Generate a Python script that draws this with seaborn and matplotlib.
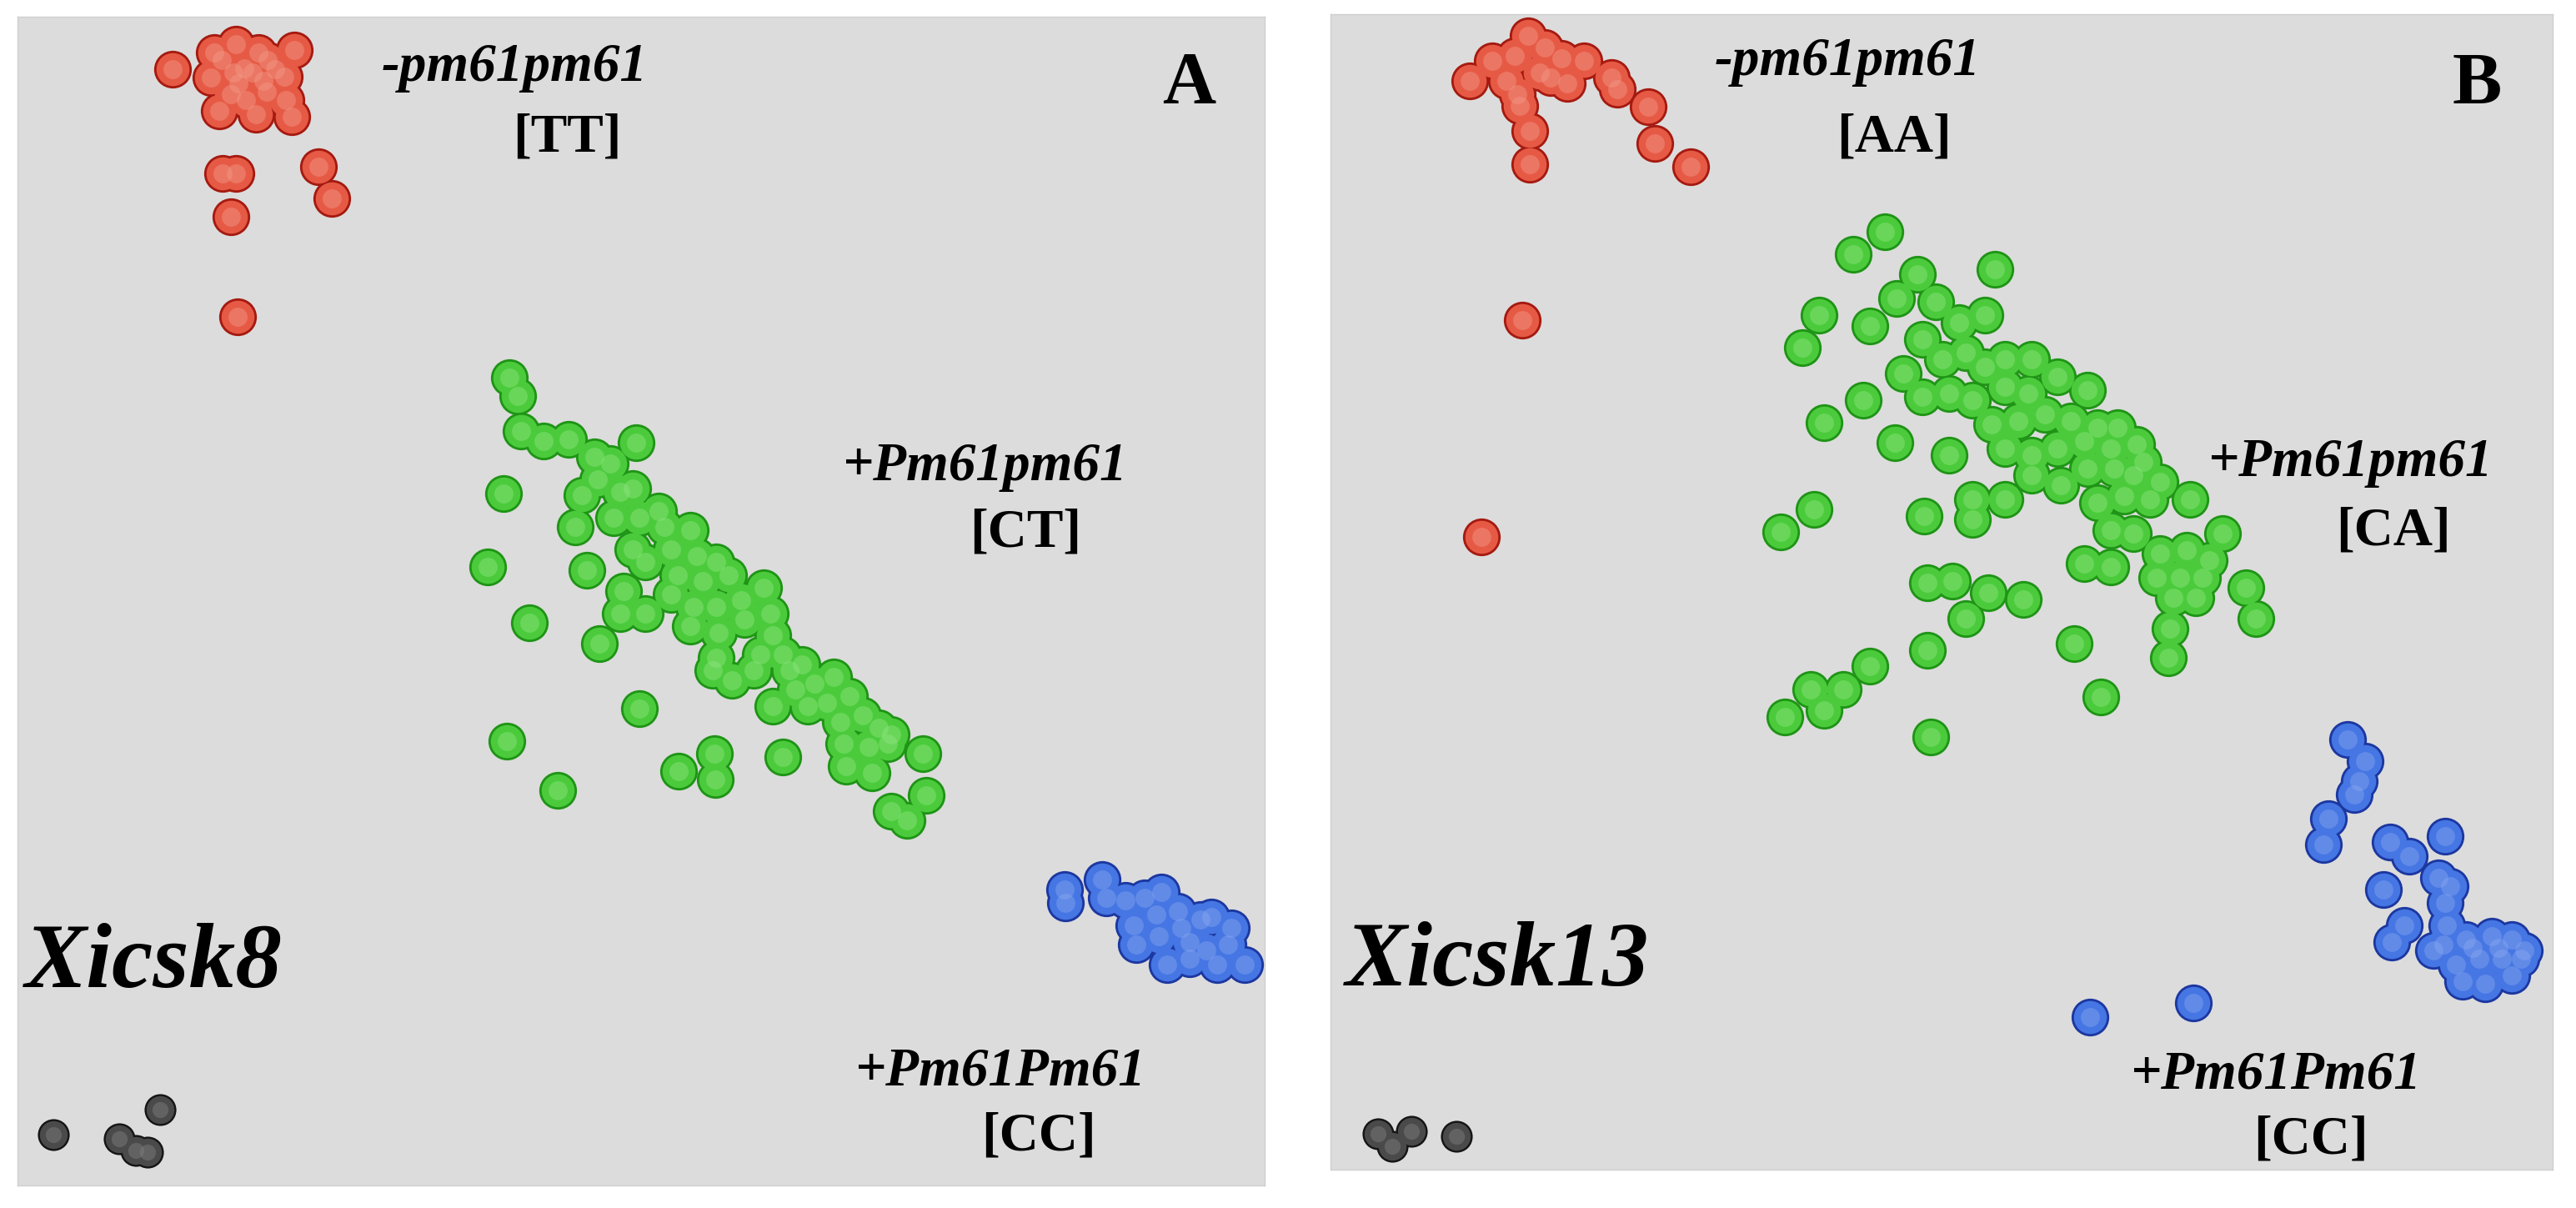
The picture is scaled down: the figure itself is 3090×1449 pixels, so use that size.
import matplotlib
matplotlib.use("Agg")
import matplotlib.pyplot as plt
import seaborn as sns
import pandas as pd

# cluster points (x = allele 1 signal, y = allele 2 signal)
a_red = [(186, 1339), (236, 1359), (262, 1369), (289, 1359), (332, 1362), (232, 1329),
         (259, 1335), (282, 1335), (309, 1339), (242, 1289), (286, 1285), (329, 1282),
         (256, 1309), (299, 1312), (322, 1302), (274, 1302), (246, 1214), (262, 1214),
         (256, 1162), (361, 1222), (377, 1184), (264, 1042), (272, 1340), (300, 1350),
         (320, 1330), (245, 1350), (265, 1322), (295, 1325)]
a_green = [(590, 969), (600, 947), (604, 905), (631, 893), (661, 895), (692, 874), (711, 866),
           (742, 891), (696, 847), (677, 828), (723, 832), (738, 836), (715, 801), (746, 801),
           (769, 809), (776, 790), (807, 786), (669, 790), (738, 763), (753, 748), (784, 763),
           (815, 755), (838, 748), (792, 732), (822, 725), (853, 732), (727, 713), (723, 686),
           (753, 686), (784, 709), (811, 694), (838, 694), (868, 702), (895, 717), (807, 671),
           (841, 663), (872, 679), (903, 686), (906, 660), (838, 633), (834, 618), (857, 606),
           (883, 618), (891, 637), (918, 637), (926, 618), (941, 625), (906, 575), (933, 595),
           (956, 602), (979, 610), (948, 575), (971, 579), (998, 587), (987, 556), (1014, 564),
           (1033, 549), (991, 530), (1021, 526), (1044, 530), (1048, 541), (994, 503),
           (1025, 495), (1086, 518), (1090, 468), (1048, 449), (1067, 438),
           (583, 830), (564, 742), (614, 675), (683, 738), (698, 650), (746, 572), (587, 533),
           (648, 474), (793, 497), (836, 518), (837, 487), (918, 514)]
a_blue = [(1256, 355), (1257, 339), (1301, 367), (1306, 345), (1329, 342), (1352, 345),
          (1372, 352), (1339, 312), (1366, 325), (1392, 329), (1342, 289), (1369, 299),
          (1396, 309), (1419, 319), (1432, 322), (1456, 309), (1379, 265), (1406, 272),
          (1426, 282), (1452, 289), (1439, 265), (1472, 265), (1406, 292)]
a_ntc = [(43, 61), (122, 56), (171, 91), (156, 40), (142, 42)]

b_red = [(167, 1306), (194, 1330), (221, 1336), (237, 1360), (257, 1346), (277, 1333),
         (304, 1330), (284, 1303), (251, 1316), (224, 1290), (227, 1276), (239, 1246),
         (239, 1206), (337, 1310), (344, 1296), (381, 1275), (389, 1231), (432, 1203),
         (211, 1306), (264, 1310), (230, 1019), (181, 759)]
b_green = [(665, 1125), (627, 1098), (797, 1080), (704, 1074), (586, 1025), (647, 1012),
           (679, 1045), (726, 1041), (785, 1025), (754, 1016), (710, 996), (566, 986),
           (687, 955), (639, 923), (592, 896), (677, 872), (742, 857), (580, 792), (712, 784),
           (770, 804), (809, 804), (770, 780), (734, 972), (762, 980), (785, 963), (809, 972),
           (841, 972), (872, 951), (908, 935), (710, 927), (742, 931), (770, 923), (809, 939),
           (837, 931), (793, 894), (825, 898), (857, 906), (888, 898), (920, 890), (944, 890),
           (809, 865), (841, 857), (872, 865), (904, 874), (936, 865), (967, 870), (975, 849),
           (841, 833), (876, 821), (908, 841), (940, 841), (963, 833), (995, 825), (1031, 804),
           (920, 800), (952, 808), (983, 804), (936, 767), (963, 763), (904, 727), (936, 723),
           (995, 739), (1027, 743), (1054, 731), (1070, 763), (991, 710), (1019, 710),
           (1046, 710), (1011, 686), (1038, 686), (1098, 698), (1110, 661), (1007, 649),
           (1005, 614), (892, 631), (924, 567), (716, 704), (746, 706), (789, 692), (831, 684),
           (762, 661), (716, 623), (647, 604), (615, 576), (576, 576), (592, 551), (720, 519),
           (540, 765), (545, 543)]
b_blue = [(1220, 516), (1241, 490), (1234, 466), (1228, 450), (1197, 421), (1191, 390),
          (1271, 393), (1294, 376), (1337, 400), (1263, 336), (1329, 350), (1343, 340),
          (1337, 320), (1288, 293), (1273, 273), (1339, 293), (1335, 270), (1362, 276),
          (1393, 280), (1417, 276), (1428, 253), (1350, 246), (1378, 253), (1405, 253),
          (1358, 226), (1385, 223), (1417, 233), (1323, 263), (1370, 266), (1401, 266),
          (1432, 263), (911, 183), (1035, 200)]
b_ntc = [(57, 43), (74, 28), (97, 46), (151, 40)]

# face, rim, highlight, marker area
styles = {
    "red": ("#e65a45", "#a51a10", "#f29a88", 900),
    "green": ("#4bcb3c", "#1f9416", "#8fe57f", 900),
    "blue": ("#4576e3", "#1c37a0", "#86a6f0", 900),
    "ntc": ("#4a4a4a", "#151515", "#808080", 640),
}

sns.set_theme(style="white")

fig = plt.figure(figsize=(30.9, 14.49), dpi=100)
ax_a = fig.add_axes([21 / 3090, 1 - 1422 / 1449, 1496 / 3090, 1402 / 1449])
ax_b = fig.add_axes([1596 / 3090, 1 - 1403 / 1449, 1466 / 3090, 1386 / 1449])

panels = [
    (ax_a, {"red": a_red, "green": a_green, "blue": a_blue, "ntc": a_ntc}, (1496, 1402)),
    (ax_b, {"red": b_red, "green": b_green, "blue": b_blue, "ntc": b_ntc}, (1466, 1386)),
]

for ax, clusters, (w, h) in panels:
    for name, pts in clusters.items():
        df = pd.DataFrame(pts, columns=["x", "y"])
        face, rim, light, size = styles[name]
        # dark rim first, then the fill on top so a cluster reads as one blob
        sns.scatterplot(data=df, x="x", y="y", ax=ax, color=rim, linewidth=0,
                        s=size * 1.18, legend=False, zorder=3)
        sns.scatterplot(data=df, x="x", y="y", ax=ax, color=face, linewidth=0,
                        s=size * 0.9, legend=False, zorder=4)
        sns.scatterplot(data=df, x="x", y="y", ax=ax, color=light, linewidth=0,
                        s=size * 0.3, alpha=0.45, legend=False, zorder=5)
    ax.set_xlim(0, w)
    ax.set_ylim(0, h)
    ax.set_facecolor("#dcdcdc")
    ax.set_xticks([])
    ax.set_yticks([])
    ax.set_xlabel("")
    ax.set_ylabel("")
    for sp in ax.spines.values():
        sp.set_color("#cfcfcf")
        sp.set_linewidth(1)

serif = ["Liberation Serif", "DejaVu Serif"]
lab = dict(family=serif, fontsize=47, fontweight="bold", color="black", va="center")
big = dict(family=serif, fontweight="bold", color="black", va="center")

# panel A labels
ax_a.text(437, 1341, "-pm61pm61", style="italic", ha="left", **lab)
ax_a.text(659, 1257, "[TT]", ha="center", **lab)
ax_a.text(1405, 1320, "A", ha="center", fontsize=64, **big)
ax_a.text(989, 862, "+Pm61pm61", style="italic", ha="left", **lab)
ax_a.text(1209, 783, "[CT]", ha="center", **lab)
ax_a.text(9, 265, "Xicsk8", ha="left", fontsize=80, style="italic", **big)
ax_a.text(1004, 137, "+Pm61Pm61", style="italic", ha="left", **lab)
ax_a.text(1225, 59, "[CC]", ha="center", **lab)

# panel B labels
ax_b.text(461, 1329, "-pm61pm61", style="italic", ha="left", **lab)
ax_b.text(676, 1237, "[AA]", ha="center", **lab)
ax_b.text(1375, 1301, "B", ha="center", fontsize=64, **big)
ax_b.text(1052, 848, "+Pm61pm61", style="italic", ha="left", **lab)
ax_b.text(1275, 765, "[CA]", ha="center", **lab)
ax_b.text(18, 248, "Xicsk13", ha="left", fontsize=80, style="italic", **big)
ax_b.text(959, 114, "+Pm61Pm61", style="italic", ha="left", **lab)
ax_b.text(1176, 35, "[CC]", ha="center", **lab)

fig.savefig("out.png", dpi=100, facecolor="white")
